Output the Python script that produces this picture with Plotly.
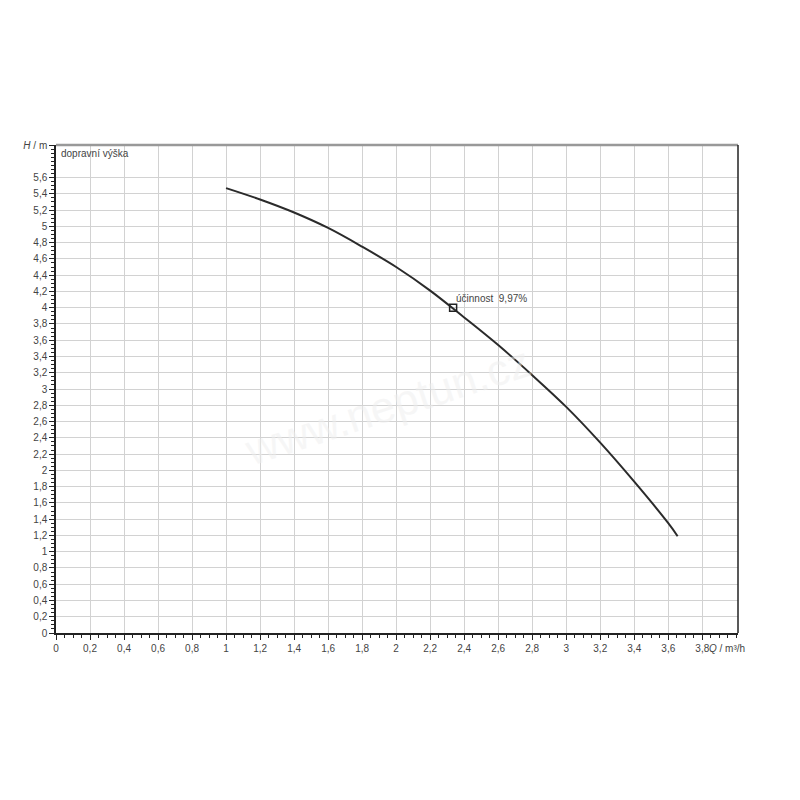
import plotly.graph_objects as go

# pump curve
q_values = [1.0, 1.2, 1.4, 1.6, 1.8, 2.0, 2.2, 2.4, 2.6, 2.8, 3.0, 3.2, 3.4, 3.6, 3.655]
h_values = [5.47, 5.33, 5.17, 4.98, 4.75, 4.50, 4.21, 3.88, 3.54, 3.17, 2.78, 2.34, 1.86, 1.35, 1.19]

duty_q = [2.335]
duty_h = [4.0]
duty_label = "účinnost  9,97%"

x_ticks = [round(i * 0.2, 1) for i in range(20)]
x_labels = [("%g" % v).replace(".", ",") for v in x_ticks]
y_ticks = [round(i * 0.2, 1) for i in range(29)]
y_labels = [("%g" % v).replace(".", ",") for v in y_ticks]
y_ticks += [6.0]
y_labels += ["<i>H</i> / m"]

font = dict(family="Liberation Sans, Arial, sans-serif", size=10, color="#444")

fig = go.Figure()
fig.add_trace(go.Scatter(x=q_values, y=h_values, mode="lines",
                         line=dict(color="#2b2b2b", width=2, shape="spline", smoothing=1.0),
                         hoverinfo="skip"))
fig.add_trace(go.Scatter(x=duty_q, y=duty_h, mode="markers",
                         marker=dict(symbol="square-open", size=7, color="#222",
                                     line=dict(width=1.5))))

fig.add_annotation(x=duty_q[0], y=duty_h[0], text=duty_label, showarrow=False,
                   xanchor="left", yanchor="bottom", xshift=1, yshift=2, font=font)
fig.add_annotation(x=0.02, y=5.99, text="dopravní výška", showarrow=False,
                   xanchor="left", yanchor="top", font=font)
fig.add_annotation(x=3.83, y=0, yshift=-15, text="<i>Q</i> / m³/h", showarrow=False,
                   xanchor="left", yanchor="middle", font=font)
# faint watermark
fig.add_annotation(x=1.95, y=2.8, text="www.neptun.cz", showarrow=False, textangle=-18,
                   font=dict(family="Liberation Sans, Arial", size=44, color="rgba(238,238,238,0.5)"))

fig.update_xaxes(range=[0, 4.01], tickvals=x_ticks, ticktext=x_labels,
                 showgrid=True, gridcolor="#d2d2d2", gridwidth=1,
                 showline=True, linecolor="#222", linewidth=1.5,
                 ticks="outside", ticklen=5, tickcolor="#222", zeroline=False,
                 minor=dict(dtick=0.05, ticks="outside", ticklen=3, tickcolor="#222", showgrid=False),
                 tickfont=font)
fig.update_yaxes(range=[0, 6], tickvals=y_ticks, ticktext=y_labels,
                 showgrid=True, gridcolor="#d2d2d2", gridwidth=1,
                 showline=True, linecolor="#222", linewidth=1.5,
                 ticks="outside", ticklen=5, tickcolor="#222", zeroline=False,
                 minor=dict(dtick=0.05, ticks="outside", ticklen=3, tickcolor="#222", showgrid=False),
                 tickfont=font)

fig.add_shape(type="line", xref="paper", yref="paper", x0=0, x1=1, y0=1, y1=1,
              line=dict(color="#999", width=2.5))
fig.add_shape(type="line", xref="paper", yref="paper", x0=1, x1=1, y0=0, y1=1,
              line=dict(color="#222", width=1.5))

fig.update_layout(width=800, height=800, showlegend=False,
                  plot_bgcolor="white", paper_bgcolor="white",
                  margin=dict(l=48, r=70, t=137, b=175))

fig.write_html("out.html")
